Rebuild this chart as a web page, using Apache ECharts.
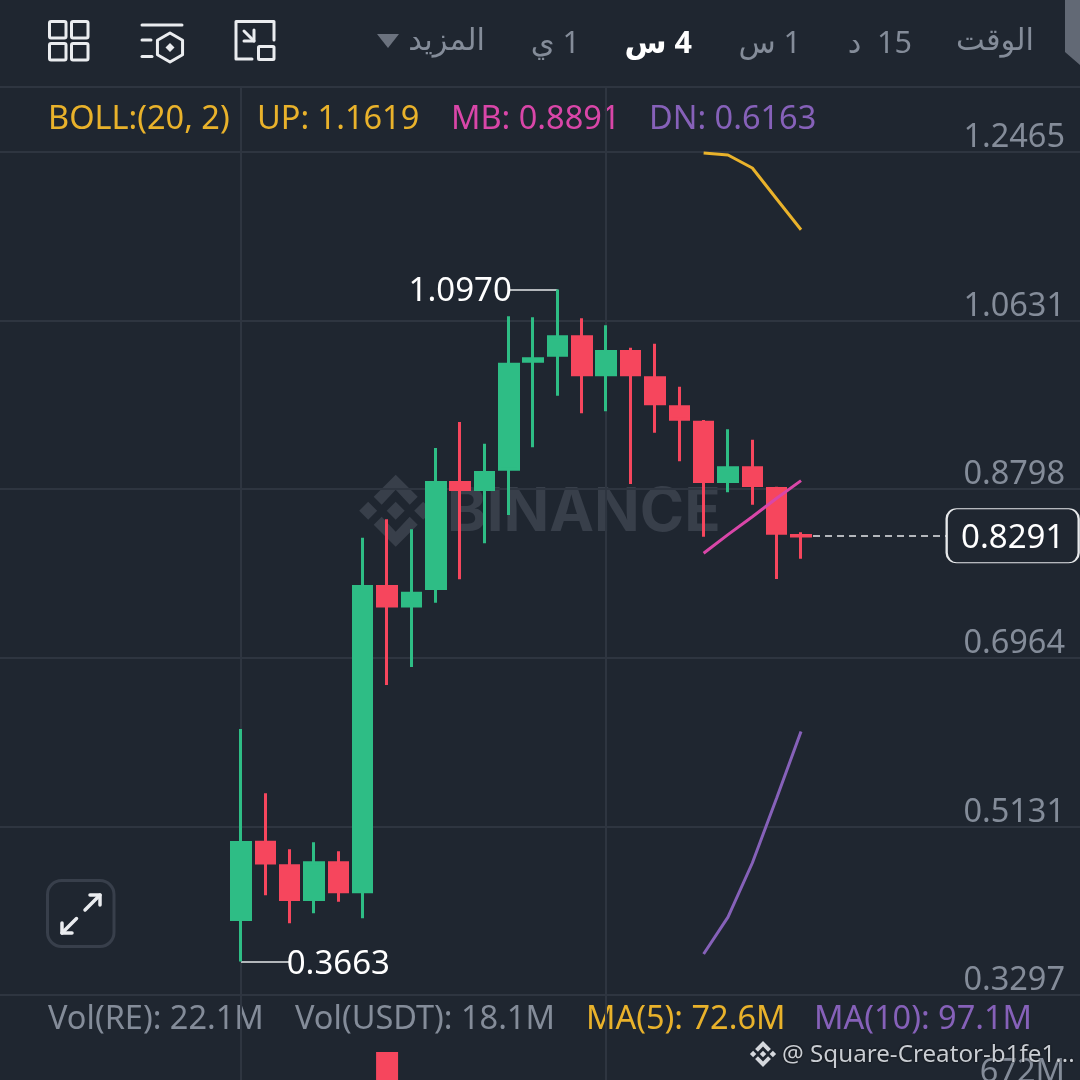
<!DOCTYPE html>
<html>
<head>
<meta charset="utf-8">
<style>html,body{margin:0;padding:0;background:#1f2630}#c{width:1080px;height:1080px}</style>
<script src="https://cdn.jsdelivr.net/npm/echarts@6/dist/echarts.min.js"></script>
</head>
<body>
<div id="c"></div>
<script>
// ---------- data ----------
const priceTicks = [0.3297, 0.5131, 0.6964, 0.8798, 1.0631, 1.2465];
const opens  = [0.4102,0.4975,0.4718,0.4319,0.4751,0.4403,0.7756,0.7513,0.7702,0.8887,0.8778,0.8999,1.0174,1.0239,1.0471,1.0026,1.0312,1.0026,0.9710,0.9543,0.8865,0.9047,0.8822,0.8310];
const closes = [0.4972,0.4718,0.4319,0.4751,0.4403,0.7756,0.7513,0.7683,0.8887,0.8778,0.8996,1.0174,1.0232,1.0471,1.0026,1.0312,1.0026,0.9710,0.9543,0.8865,0.9047,0.8822,0.8303,0.8272];
const lows   = [0.3663,0.4381,0.4077,0.4186,0.4312,0.4131,0.6668,0.6864,0.7563,0.7818,0.8209,0.8517,0.9253,0.9815,0.9623,0.9645,0.8854,0.9412,0.9101,0.8281,0.8764,0.8629,0.7821,0.8042];
const highs  = [0.6190,0.5491,0.4882,0.4958,0.4860,0.8270,0.8470,0.8362,0.9246,0.9529,0.9293,1.0678,1.0667,1.0970,1.0656,1.0580,1.0337,1.0380,0.9913,0.9550,0.9449,0.9336,0.8825,0.8329];
const bollUp  = [1.2454,1.2433,1.2291,1.1954,1.1619];
const bollMid = [0.8101,0.8304,0.8499,0.8699,0.8891];
const bollDn  = [0.3743,0.4145,0.4733,0.5439,0.6163];
const lastPrice = 0.8291, maxPrice = 1.0970, minPrice = 0.3663;
const volumeCandleIndex = 6, volumeValue = 760, volumeTick = 672;
const toolbarLabels = ['\u0627\u0644\u0648\u0642\u062a','\u200f15  \u062f','\u200f1 \u0633','\u200f4 \u0633','\u200f1 \u064a','\u0627\u0644\u0645\u0632\u064a\u062f'];
const bollLegend = ['BOLL:(20, 2)','UP: 1.1619','MB: 0.8891','DN: 0.6163'];
const volLegend = ['Vol(RE): 22.1M','Vol(USDT): 18.1M','MA(5): 72.6M','MA(10): 97.1M'];
const creditText = '@ Square-Creator-b1fe1...';
const watermarkText = 'BINANCE';

// ---------- layout / style ----------
const BG='#1f2630', GRID='#2e3540', GREY='#848c99', WHITE='#eaecef';
const GREEN='#2ebd85', RED='#f6465d', YEL='#e9b22b', PINK='#d946a8', PUR='#8661b9';
const FONT='"Noto Sans", "DejaVu Sans", sans-serif';
const pad = 10, after = 11, count = pad + opens.length + after;
const categories = Array.from({length:count},(_,i)=>String(i));
const yMax = 1.3172, yMin = 0.2373;
const bodyInset = 0.0016;   // half the stroke width, in price units
const candleData = categories.map((_,i)=>{
  const k=i-pad;
  if(k<0||k>=opens.length) return ['-','-','-','-'];
  const up=closes[k]>opens[k], s=up?1:-1;
  return [opens[k]+s*bodyInset, closes[k]-s*bodyInset, lows[k], highs[k]];
});
const bollStart = pad + opens.length - bollUp.length;
const pairs = a => a.map((v,i)=>[bollStart+i,v]);
const maxIdx = pad + highs.indexOf(maxPrice), minIdx = pad + lows.indexOf(minPrice);
const lastIdx = pad + opens.length - 1;

const txt=(x,y,s,color,size,extra)=>({type:'text',x,y,silent:true,style:Object.assign({text:s,fill:color,font:`${size}px ${FONT}`,textVerticalAlign:'middle',textAlign:'left'},extra||{})});
const stroke=(shape,type,color,w,z)=>({type,shape,silent:true,z:z||5,style:{stroke:color,fill:'none',lineWidth:w,lineCap:'round',lineJoin:'round'}});
const poly=(pts,color,z)=>({type:'polygon',shape:{points:pts},silent:true,z:z||0,style:{fill:color}});
function logo(cx,cy,s,color,z){
  const P=a=>a.map(p=>[cx+p[0]*s,cy+p[1]*s]);
  const d=(x,y,r)=>poly(P([[x,y-r],[x+r,y],[x,y+r],[x-r,y]]),color,z);
  return [d(0,0,9),d(-27.5,0,9),d(27.5,0,9),
    poly(P([[0,-36],[22,-14],[14,-6],[0,-21],[-14,-6],[-22,-14]]),color,z),
    poly(P([[0,36],[22,14],[14,6],[0,21],[-14,6],[-22,14]]),color,z)];
}
const gridIcon=[[49.5,21.5],[71.5,21.5],[49.5,43.5],[71.5,43.5]].map(p=>stroke({x:p[0],y:p[1],width:16.5,height:16.5,r:1.5},'rect',WHITE,3));
const hex=(cx,cy,r)=>[0,1,2,3,4,5].map(i=>[cx+r*Math.sin(i*Math.PI/3),cy-r*Math.cos(i*Math.PI/3)]);
const line=(a,b,c,w)=>stroke({x1:a[0],y1:a[1],x2:b[0],y2:b[1]},'line',c,w);
const pl=(pts,c,w)=>stroke({points:pts},'polyline',c,w);

const graphics=[
  poly([[1065,0],[1065,52],[1080,65],[1080,0]],'#626975',5),
  ...gridIcon,
  line([142,25],[182,25],WHITE,3), line([142,40],[151,40],WHITE,3), line([142,56.5],[152,56.5],WHITE,3),
  {type:'polygon',shape:{points:hex(170,47.5,14.5)},silent:true,z:5,style:{stroke:WHITE,fill:'none',lineWidth:3,lineJoin:'round'}},
  poly([[170,43],[174.5,47.5],[170,52],[165.5,47.5]],WHITE,5),
  pl([[274,40],[274,21.5],[236,21.5],[236,59],[252,59]],WHITE,3),
  stroke({x:258.5,y:46.5,width:15.5,height:13,r:1},'rect',WHITE,3),
  line([244,31],[254,41],WHITE,3), pl([[254,30],[254,41],[244,41]],WHITE,3),
  txt(1034,41,toolbarLabels[0],GREY,30.5,{textAlign:'right'}),
  txt(912,44,toolbarLabels[1],GREY,30.5,{textAlign:'right'}),
  txt(801,44,toolbarLabels[2],GREY,30.5,{textAlign:'right'}),
  txt(692,44,toolbarLabels[3],'#ffffff',30.5,{textAlign:'right',font:`bold 30.5px ${FONT}`}),
  txt(580,44,toolbarLabels[4],GREY,30.5,{textAlign:'right'}),
  txt(485,41,toolbarLabels[5],GREY,30.5,{textAlign:'right'}),
  poly([[377,34],[399,34],[388,48]],'#6b727e',5),
  txt(48,120,bollLegend[0],YEL,32.5),
  txt(257,120,bollLegend[1],YEL,32.5),
  txt(451,120,bollLegend[2],PINK,32.5),
  txt(649,120,bollLegend[3],PUR,32.5),
  txt(48,1020,volLegend[0],GREY,32.5),
  txt(295,1020,volLegend[1],GREY,32.5),
  txt(586,1020,volLegend[2],YEL,32.5),
  txt(814,1020,volLegend[3],PUR,32.5),
  ...logo(395.7,510.7,1,'#383f4a',0),
  {type:'text',x:447,y:513,silent:true,z:0,style:{text:watermarkText,fill:'#383f4a',font:`bold 60px Inter, ${FONT}`,textVerticalAlign:'middle',textAlign:'left'}},
  stroke({x:47.5,y:880.5,width:66.5,height:66,r:14},'rect','#383f4b',3),
  line([85,910],[100,895],WHITE,3.5), pl([[90,895],[100,895],[100,905]],WHITE,3.5),
  line([76.5,918.5],[62,933],WHITE,3.5), pl([[62,923],[62,933],[72,933]],WHITE,3.5),
  ...logo(763,1054,0.36,'#d5d8dd',20),
  {type:'text',x:782,y:1055,silent:true,z:20,style:{text:creditText,fill:'#c9cdd3',font:`24.2px ${FONT}`,textVerticalAlign:'middle',textAlign:'left',textShadowColor:'#000',textShadowBlur:2}}
];

const hiddenAxis={type:'category',data:categories,boundaryGap:true,axisLine:{show:false},axisTick:{show:false},axisLabel:{show:false},splitLine:{show:false}};
const labelStyle={color:'#ffffff',fontSize:33,fontFamily:FONT};
const roundBox='path://M10 0H122A10 10 0 0 1 132 10V44A10 10 0 0 1 122 54H10A10 10 0 0 1 0 44V10A10 10 0 0 1 10 0Z';
const option={
  animation:false,
  backgroundColor:BG,
  graphic:{elements:graphics},
  grid:[
    {left:-14.7,top:87,width:1095.75,height:993,containLabel:false,outerBoundsMode:'none'},
    {left:-14.7,top:1052,width:1095.75,height:180,containLabel:false,outerBoundsMode:'none'}
  ],
  xAxis:[Object.assign({gridIndex:0},hiddenAxis),Object.assign({gridIndex:1},hiddenAxis)],
  yAxis:[
    {gridIndex:0,type:'value',position:'right',min:yMin,max:yMax,scale:true,
     axisLine:{show:false},
     axisTick:{show:false,customValues:priceTicks.concat([yMax])},
     axisLabel:{inside:true,margin:16,customValues:priceTicks,color:GREY,fontSize:32.5,fontFamily:FONT,verticalAlign:'bottom',lineHeight:28,formatter:v=>Number(v).toFixed(4)},
     splitLine:{show:true,lineStyle:{color:GRID,width:2}}},
    {gridIndex:1,type:'value',position:'right',min:0,max:volumeValue,
     axisLine:{show:false},
     axisTick:{show:false,customValues:[volumeTick]},
     axisLabel:{inside:true,margin:16,customValues:[volumeTick],color:GREY,fontSize:32.5,fontFamily:FONT,formatter:v=>v+'M'},
     splitLine:{show:false}}
  ],
  series:[
    {type:'line',xAxisIndex:0,yAxisIndex:0,data:[],z:1,silent:true,
     markLine:{z:1,silent:true,symbol:'none',animation:false,label:{show:false},lineStyle:{color:GRID,width:2,type:'solid'},
       data:[{xAxis:String(pad)},{xAxis:String(pad+15)}]}},
    {type:'candlestick',xAxisIndex:0,yAxisIndex:0,z:3,silent:true,barWidth:19,data:candleData,
     itemStyle:{color:GREEN,color0:RED,borderColor:GREEN,borderColor0:RED,borderWidth:3},
     markLine:{silent:true,symbol:'none',animation:false,precision:4,z:2,label:{show:false},
       lineStyle:{color:'#e6e8ea',width:1.5,type:'solid'},
       data:[
        [{coord:[maxIdx,maxPrice]},{coord:[maxIdx-2,maxPrice]}],
        [{coord:[minIdx,minPrice]},{coord:[minIdx+2,minPrice]}],
        [{coord:[lastIdx,lastPrice],lineStyle:{type:[7,5]}},{coord:[39,lastPrice],lineStyle:{type:[7,5]}}]
       ]},
     markPoint:{silent:true,animation:false,z:7,
       data:[
        {coord:[42,lastPrice],symbol:roundBox,symbolKeepAspect:false,symbolSize:[132,54],symbolOffset:[-7.5,0],
         itemStyle:{color:BG,borderColor:'#e6e8ea',borderWidth:1.5},
         label:{show:true,position:'inside',offset:[0,3],formatter:lastPrice.toFixed(4),...labelStyle}},
        {coord:[maxIdx-2,maxPrice],symbol:'circle',symbolSize:0,
         label:{show:true,position:'left',distance:0,offset:[3,2],formatter:maxPrice.toFixed(4),...labelStyle}},
        {coord:[minIdx+2,minPrice],symbol:'circle',symbolSize:0,
         label:{show:true,position:'right',distance:0,offset:[-3,3],formatter:minPrice.toFixed(4),...labelStyle}}
       ]}},
    {type:'line',xAxisIndex:0,yAxisIndex:0,z:4,silent:true,data:pairs(bollUp),symbol:'none',lineStyle:{color:YEL,width:3}},
    {type:'line',xAxisIndex:0,yAxisIndex:0,z:4,silent:true,data:pairs(bollMid),symbol:'none',lineStyle:{color:PINK,width:3}},
    {type:'line',xAxisIndex:0,yAxisIndex:0,z:4,silent:true,data:pairs(bollDn),symbol:'none',lineStyle:{color:PUR,width:3}},
    {type:'bar',xAxisIndex:1,yAxisIndex:1,z:2,silent:true,barWidth:22,data:[[pad+volumeCandleIndex,volumeValue]],itemStyle:{color:RED}}
  ]
};
echarts.init(document.getElementById('c'),null,{renderer:'canvas'}).setOption(option);
</script>
</body>
</html>
